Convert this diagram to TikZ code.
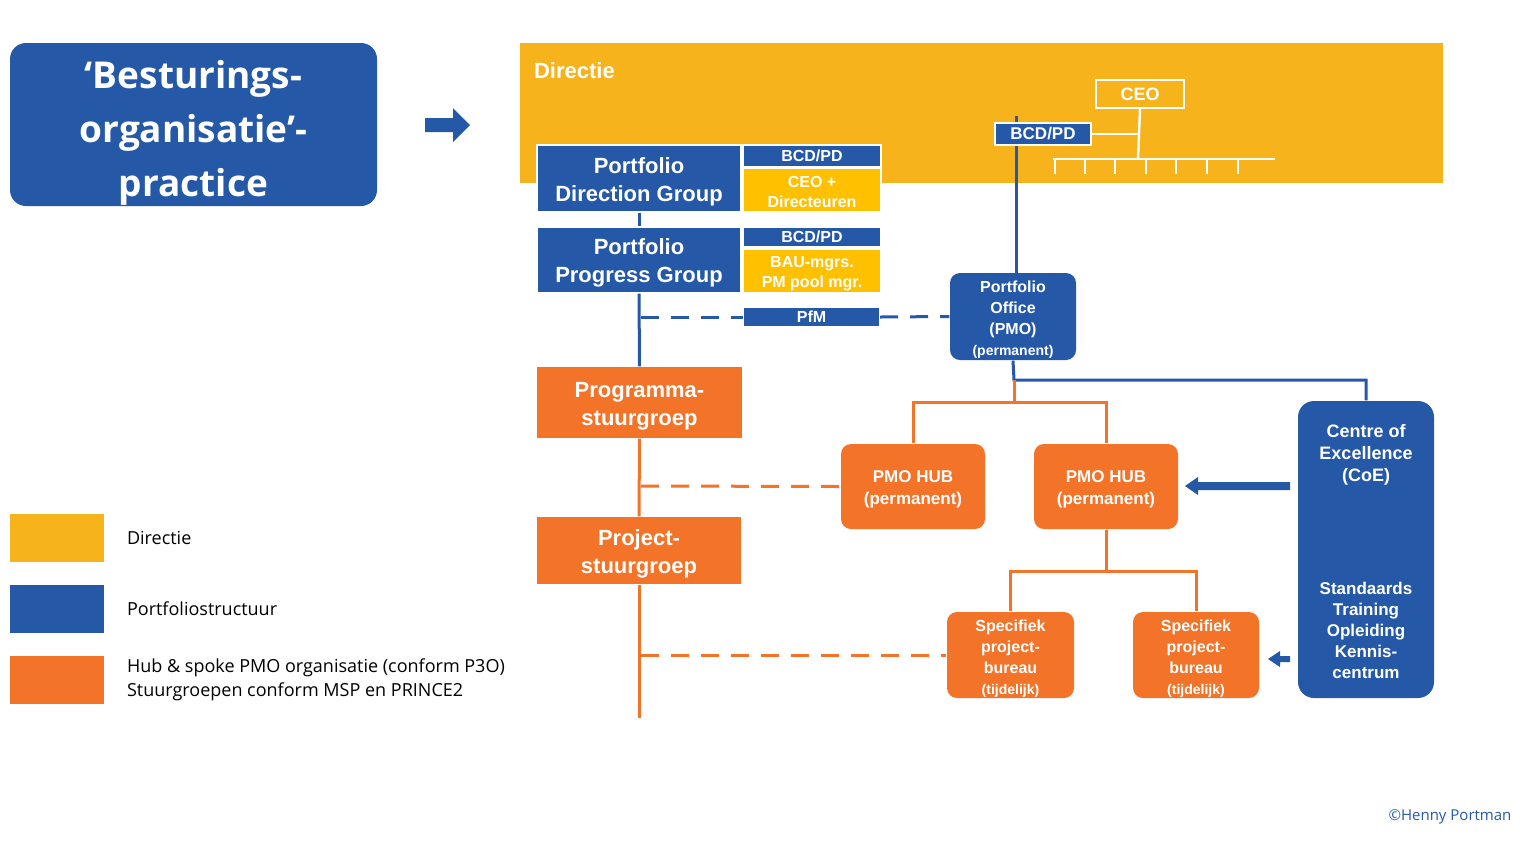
\documentclass[tikz,border=0pt]{standalone}
\usepackage{fontspec}
\setmainfont{Liberation Sans}
\newfontfamily\osans{Open Sans}
\usetikzlibrary{arrows.meta}
\definecolor{pblue}{RGB}{37,89,167}
\definecolor{porange}{RGB}{243,115,40}
\definecolor{pyel}{RGB}{247,179,27}
\definecolor{pyel2}{RGB}{255,192,0}
\begin{document}
\begin{tikzpicture}[x=0.5pt,y=-0.5pt,
 box/.style={draw=white,line width=0.6pt,text=white,font=\bfseries,align=center,inner sep=0pt},
 bl/.style={box,fill=pblue},
 ye/.style={box,fill=pyel2},
 orr/.style={box,fill=porange},
 rb/.style={box,rounded corners=5pt},
 bline/.style={draw=pblue,line width=1.5pt},
 oline/.style={draw=porange,line width=1.5pt},
 wline/.style={draw=white,line width=1.2pt},
 dn/.style={execute at begin node={\vspace*{3pt}}}]
\useasboundingbox (0,0) rectangle (1536,864);
% title
\node[rb,fill=pblue,draw=none,rounded corners=8pt,minimum width=183.5pt,minimum height=81.5pt,font=\osans\bfseries\fontsize{18.5}{27}\selectfont] (title) at (193.5,124.5) {\rule{0pt}{22pt}‘Besturings-\\organisatie’-\\practice};
\coordinate (arr) at (447,125);
\fill[pblue] (425,118) -- (453,118) -- (453,108) -- (470,125) -- (453,142) -- (453,132) -- (425,132) -- cycle;
% directie band
\node[fill=pyel,minimum width=461.5pt,minimum height=70pt,inner sep=0pt] (dir) at (981.5,113) {};
\node[text=white,font=\bfseries\fontsize{11}{13}\selectfont,anchor=west] (dirt) at (527,71) {Directie};
\coordinate (ptop) at (1016,116);
\coordinate (pbot) at (1016,273);
\draw[bline] (ptop) -- (pbot);
\node[draw=white,line width=0.8pt,text=white,font=\bfseries\fontsize{9}{11}\selectfont,minimum width=44pt,minimum height=14pt,inner sep=0pt] (ceo) at (1140,94) {CEO};
\node[bl,font=\bfseries\fontsize{8.5}{10}\selectfont,minimum width=48pt,minimum height=11pt] (bcd0) at (1043,134) {BCD/PD};
\coordinate (j) at (1138,134);
\coordinate (hb) at (1138,159);
\draw[wline] (ceo.south) -- (hb);
\draw[wline] (bcd0.east) -- (j);
\draw[wline] (1053,159) -- (1275,159);
\foreach \x in {1055,1085,1115,1146,1176,1207,1238} \draw[wline] (\x,159) -- (\x,174);
% portfolio office
\node[rb,fill=pblue,draw=none,minimum width=63pt,minimum height=43.5pt,font=\bfseries\fontsize{8}{10.5}\selectfont] (po) at (1013,316.5) {\rule{0pt}{9pt}Portfolio\\Office\\(PMO)\\{\fontsize{7}{9}\selectfont(permanent)}};
% groups
\node[bl,minimum width=102pt,minimum height=33.5pt,font=\bfseries\fontsize{11}{14}\selectfont] (pdg) at (639,178.5) {\rule{0pt}{11pt}Portfolio\\Direction Group};
\node[bl,minimum width=69pt,minimum height=11pt,font=\bfseries\fontsize{8}{10}\selectfont] (b1) at (812,156) {BCD/PD};
\node[ye,minimum width=69pt,minimum height=22pt,font=\bfseries\fontsize{8}{10}\selectfont] (y1) at (812,190) {\rule{0pt}{8pt}CEO +\\Directeuren};
\node[bl,minimum width=102pt,minimum height=33pt,font=\bfseries\fontsize{11}{14}\selectfont] (ppg) at (639,260) {\rule{0pt}{11pt}Portfolio\\Progress Group};
\node[bl,minimum width=69pt,minimum height=10pt,font=\bfseries\fontsize{8}{10}\selectfont] (b2) at (812,237) {BCD/PD};
\node[ye,minimum width=69pt,minimum height=22pt,font=\bfseries\fontsize{8}{10}\selectfont] (y2) at (812,271) {\rule{0pt}{8pt}BAU-mgrs.\\PM pool mgr.};
\node[bl,minimum width=68pt,minimum height=10pt,font=\bfseries\fontsize{8}{10}\selectfont] (pfm) at (811.5,317) {PfM};
\draw[bline] (pdg) -- (ppg);
\node[orr,draw=none,minimum width=102.5pt,minimum height=35.5pt,font=\bfseries\fontsize{11}{14}\selectfont] (prog) at (639.5,402.5) {\rule{0pt}{11pt}Programma-\\stuurgroep};
\node[orr,draw=none,minimum width=102pt,minimum height=33.5pt,font=\bfseries\fontsize{11}{14}\selectfont] (proj) at (639,550.5) {\rule{0pt}{11pt}Project-\\stuurgroep};
\draw[bline] (ppg) -- (prog);
\draw[oline] (prog) -- (proj);
\coordinate (oend) at (639,718);
\draw[oline] (proj) -- (oend);
\draw[bline,dashed,dash pattern=on 9pt off 6pt] (641,317) -- (pfm.west);
\draw[bline,dashed,dash pattern=on 9pt off 6pt] (pfm.east) -- (po.west);
% hubs
\node[rb,fill=porange,draw=none,minimum width=72pt,minimum height=42.5pt,font=\bfseries\fontsize{8.5}{11}\selectfont] (h1) at (913,486.5) {\rule{0pt}{9pt}PMO HUB\\(permanent)};
\node[rb,fill=porange,draw=none,minimum width=72pt,minimum height=42.5pt,font=\bfseries\fontsize{8.5}{11}\selectfont] (h2) at (1106,486.5) {\rule{0pt}{9pt}PMO HUB\\(permanent)};
\node[rb,fill=porange,draw=none,minimum width=63.5pt,minimum height=43pt,font=\bfseries\fontsize{8}{10.5}\selectfont] (s1) at (1010.5,655) {\rule{0pt}{9pt}Specifiek\\project-\\bureau\\{\fontsize{7}{9}\selectfont(tijdelijk)}};
\node[rb,fill=porange,draw=none,minimum width=63pt,minimum height=43pt,font=\bfseries\fontsize{8}{10.5}\selectfont] (s2) at (1196,655) {\rule{0pt}{9pt}Specifiek\\project-\\bureau\\{\fontsize{7}{9}\selectfont(tijdelijk)}};
\node[rb,fill=pblue,draw=none,rounded corners=8pt,minimum width=68pt,minimum height=148.5pt] (coe) at (1366,549.5) {};
\node[text=white,font=\bfseries\fontsize{9}{11}\selectfont,align=center] (coet) at (1366,455) {Centre of\\Excellence\\(CoE)};
\node[text=white,font=\bfseries\fontsize{8.5}{10.5}\selectfont,align=center] (coeb) at (1366,630) {Standaards\\Training\\Opleiding\\Kennis-\\centrum};
\coordinate (pb) at (1014,380);
\draw[bline] (po.south) -- (pb) -| (coe.north);
\draw[oline] (pb) -- (1014,402);
\draw[oline] (h1.north) |- (1014,402) -| (h2.north);
\draw[oline] (h2.south) -- (1106,571) -| (s1.north);
\draw[oline] (1106,571) -| (s2.north);
\draw[oline,dashed,dash pattern=on 9pt off 6pt] (641,486) -- (h1.west);
\draw[oline,dashed,dash pattern=on 9pt off 6pt] (641,655) -- (s1.west);
\coordinate (ca) at (1290,486);
\coordinate (cb) at (1290,659);
\fill[pblue] (ca) ++(0,-4) -- (1198,482) -- (1198,477) -- (1185,486) -- (1198,495) -- (1198,490) -- (1290,490) -- cycle;
\fill[pblue] (cb) ++(0,-3) -- (1280,656) -- (1280,651) -- (1268,659) -- (1280,667) -- (1280,662) -- (1290,662) -- cycle;
% legend
\node[fill=pyel,minimum width=47pt,minimum height=24pt,inner sep=0pt] (l1) at (57,538) {};
\node[fill=pblue,minimum width=47pt,minimum height=24pt,inner sep=0pt] (l2) at (57,609) {};
\node[fill=porange,minimum width=47pt,minimum height=24pt,inner sep=0pt] (l3) at (57,680) {};
\node[anchor=west,font=\osans\fontsize{9}{12}\selectfont] (t1) at (120,538) {Directie};
\node[anchor=west,font=\osans\fontsize{9}{12}\selectfont] (t2) at (120,609) {Portfoliostructuur};
\node[anchor=west,font=\osans\fontsize{9}{12}\selectfont,align=left] (t3) at (120,680) {Hub \& spoke PMO organisatie (conform P3O)\\Stuurgroepen conform MSP en PRINCE2};
\node[text=pblue,font=\osans\fontsize{7.5}{9}\selectfont] (copy) at (1450,817) {©Henny Portman};
\end{tikzpicture}
\end{document}
